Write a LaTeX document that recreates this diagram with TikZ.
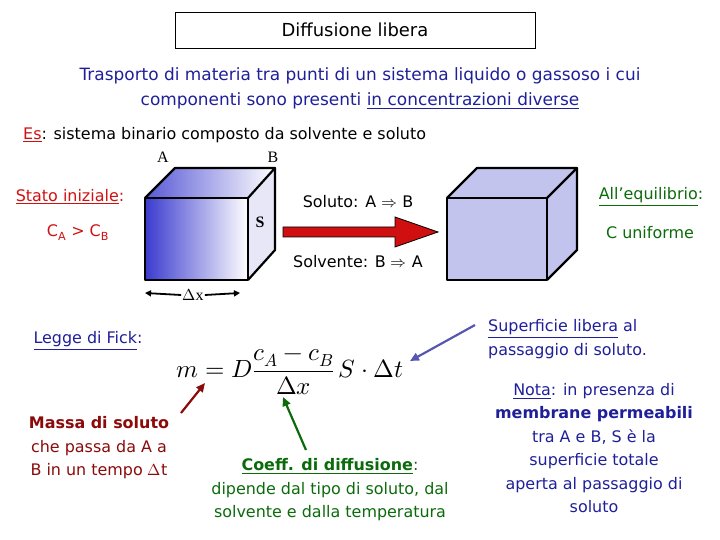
\documentclass[tikz,border=0pt]{standalone}
\usepackage{fontspec}
\setmainfont{DejaVu Sans}
\newfontfamily\serifA{Liberation Serif}
\usepackage{amsmath}
\usepackage{unicode-math}
\setmathfont{Latin Modern Math}
\usetikzlibrary{arrows.meta}
\definecolor{tblue}{HTML}{1F1F9A}
\definecolor{tred}{HTML}{D01010}
\definecolor{tgreen}{HTML}{0B6B0B}
\definecolor{dred}{HTML}{8B0A0A}
\definecolor{cubeb}{HTML}{3B3BCF}
\definecolor{cubel}{HTML}{C2C4EE}
\tikzset{
  txt/.style={font=\fontsize{16}{23.5}\selectfont, inner sep=1pt, align=center},
  edge/.style={line width=2.2pt, line join=round},
  ptr/.style={line width=2.2pt, -{Triangle[length=9pt,width=8pt]}},
  serif/.style={font=\serifA\fontsize{16}{17}\selectfont, inner sep=1pt},
}
\newcommand{\uline}[1]{\underline{#1}}
\begin{document}
\begin{tikzpicture}[x=1bp,y=-1bp]
\useasboundingbox (0,0) rectangle (720,540);
% title
\node[draw, line width=0.8pt, minimum width=360bp, minimum height=36bp, txt, font=\fontsize{18}{20}\selectfont] (title) at (355,30) {Diffusione libera};
\node[txt, text=tblue, font=\fontsize{17}{23.5}\selectfont] (l1) at (360,76) {Trasporto di materia tra punti di un sistema liquido o gassoso i cui};
\node[txt, text=tblue, font=\fontsize{17}{23.5}\selectfont] (l2) at (360,101) {componenti sono presenti \uline{in concentrazioni diverse}};
\node[txt, anchor=west] (es) at (22,135) {\textcolor{tred}{\uline{Es}}: sistema binario composto da solvente e soluto};
% cube 1
\shade[left color=cubeb, right color=white] (145,198) rectangle (248,280);
\shade[left color=cubeb!85, right color=white] (145,198) -- (175,168) -- (275,168) -- (248,198) -- cycle;
\fill[cubel!40] (248,198) -- (275,168) -- (275,250) -- (248,280) -- cycle;
\draw[edge] (145,198) rectangle (248,280);
\draw[edge] (145,198) -- (175,168) -- (275,168) -- (248,198);
\draw[edge] (275,168) -- (275,250) -- (248,280);
% cube 2
\fill[cubel] (447,198) -- (477,168) -- (577,168) -- (577,250) -- (547,280) -- (447,280) -- cycle;
\draw[edge] (447,198) rectangle (547,280);
\draw[edge] (447,198) -- (477,168) -- (577,168) -- (547,198);
\draw[edge] (577,168) -- (577,250) -- (547,280);
\node[serif] (A) at (163,157) {A};
\node[serif] (B) at (273,157) {B};
\node[serif, font=\serifA\bfseries\fontsize{16}{17}\selectfont] (S) at (260,222) {S};
% big arrow
\fill[tred, draw=black, line width=0.8pt] (283,227) -- (395,227) -- (395,217) -- (438,232) -- (395,247) -- (395,237) -- (283,237) -- cycle;
\node[txt] (sol) at (358,202) {Soluto: A $\Rightarrow$ B};
\node[txt] (solv) at (358,262) {Solvente: B $\Rightarrow$ A};
\node[txt, text=tred] (si) at (70,197) {\uline{Stato iniziale}:};
\node[txt, text=tred] (ca) at (78,233) {C\textsubscript{A} > C\textsubscript{B}};
\node[txt, text=tgreen] (eq) at (651,197) {\uline{All’equilibrio}:};
\node[txt, text=tgreen] (cu) at (650,233) {C uniforme};
% delta x
\node[serif] (dx) at (193,295) {$\Delta$x};
\coordinate (dxl) at (145,293);
\coordinate (dxr) at (240,293);
\draw[line width=1.8pt, -{Triangle[length=6pt,width=6pt]}] (dx.west) -- (dxl);
\draw[line width=1.8pt, -{Triangle[length=6pt,width=6pt]}] (dx.east) -- (dxr);
% Fick
\node[txt, text=tblue] (fick) at (88,341) {\uline{Legge di Fick}:};
\node[font=\fontsize{25}{30}\selectfont] (formula) at (290,372) {$m = D\dfrac{c_A - c_B}{\Delta x}\,S\cdot\Delta t$};
\node[txt, text=dred] (massa) at (99,448) {\textbf{Massa di soluto}\\che passa da A a\\B in un tempo $\Delta$t};
\node[txt, text=tgreen] (coeff) at (330,490) {\textbf{\uline{Coeff. di diffusione}}:\\dipende dal tipo di soluto, dal\\solvente e dalla temperatura};
\node[txt, text=tblue, anchor=west, align=left] (sup) at (487,339) {\uline{Superficie libera} al\\passaggio di soluto.};
\node[txt, text=tblue] (nota) at (594,448) {\uline{Nota}: in presenza di\\\textbf{membrane permeabili}\\tra A e B, S è la\\superficie totale\\aperta al passaggio di\\soluto};
% pointers
\coordinate (sb) at (475,325);
\coordinate (pb) at (410,361);
\coordinate (sg) at (306,450);
\coordinate (pg) at (283,397);
\coordinate (sr) at (181,413);
\coordinate (pr) at (205,383);
\draw[ptr, tblue!75!white] (sb) -- (pb);
\draw[ptr, tgreen] (sg) -- (pg);
\draw[ptr, dred] (sr) -- (pr);
\end{tikzpicture}
\end{document}
